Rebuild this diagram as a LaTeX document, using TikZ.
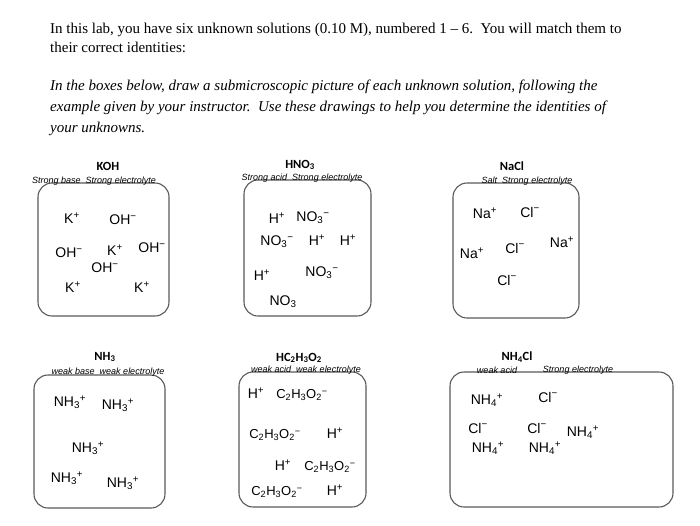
\documentclass[tikz,border=0pt]{standalone}
\usepackage{fontspec}
\setmainfont{Liberation Serif}
\newfontfamily\titlefont{Carlito}
\newfontfamily\handfont{Liberation Sans}

\newcommand{\ionp}{\textsuperscript{+}}
\newcommand{\ionm}{\textsuperscript{−}}

\tikzset{
  solbox/.style={draw=black!65, line width=1.1pt, rounded corners=14pt},
  line/.style={anchor=base west, inner sep=0pt, font=\fontsize{15}{18}\selectfont},
  itline/.style={line, font=\itshape\fontsize{15}{18}\selectfont},
  title/.style={font=\titlefont\bfseries\fontsize{12.5}{14}\selectfont, inner sep=0pt},
  note/.style={font=\handfont\itshape\fontsize{9}{10}\selectfont, inner sep=0pt},
  ion/.style={font=\handfont\fontsize{14}{16}\selectfont, inner sep=0pt},
  longion/.style={ion, font=\handfont\fontsize{13}{15}\selectfont},
}

\begin{document}
\begin{tikzpicture}[x=1pt,y=-1pt]
    \useasboundingbox (0,0) rectangle (700,525);

    % Instructions
    \node[line] (l1) at (50,33) {In this lab, you have six unknown solutions (0.10 M), numbered 1 -- 6.\ \ You will match them to};
    \node[line] (l2) at (50,52) {their correct identities:};
    \node[itline] (l3) at (50,90) {In the boxes below, draw a submicroscopic picture of each unknown solution, following the};
    \node[itline] (l4) at (50,111) {example given by your instructor.\ \ Use these drawings to help you determine the identities of};
    \node[itline] (l5) at (50,132) {your unknowns.};

    % Box 1 KOH
    \draw[solbox] (38,183) rectangle (169,316);
    \node[title] (t1) at (108,166) {KOH};
    \node[note] (n1) at (94,181) {Strong base\ \ Strong electrolyte};
    % Ions
    \node[ion] (k1) at (72,218) {K\ionp};
    \node[ion] (k2) at (123,220) {OH\ionm};
    \node[ion] (k3) at (69,253) {OH\ionm};
    \node[ion] (k4) at (115,250) {K\ionp};
    \node[ion] (k5) at (152,248) {OH\ionm};
    \node[ion] (k6) at (105,268) {OH\ionm};
    \node[ion] (k7) at (73,287) {K\ionp};
    \node[ion] (k8) at (142,287) {K\ionp};

    % Box 2 HNO3
    \draw[solbox] (244,180) rectangle (371,316);
    \node[title] (t2) at (300,165) {HNO\textsubscript{3}};
    \node[note] (n2) at (302,178) {Strong acid\ \ Strong electrolyte};
    % Ions
    \node[ion] (h1) at (277,218) {H\ionp};
    \node[ion] (h2) at (313,218) {NO\textsubscript{3}\ionm};
    \node[ion] (h3) at (277,242) {NO\textsubscript{3}\ionm};
    \node[ion] (h4) at (317,240) {H\ionp};
    \node[ion] (h5) at (348,240) {H\ionp};
    \node[ion] (h6) at (262,275) {H\ionp};
    \node[ion] (h7) at (322,273) {NO\textsubscript{3}\ionm};
    \node[ion] (h8) at (283,302) {NO\textsubscript{3}};

    % Box 3 NaCl
    \draw[solbox] (453,183) rectangle (579,318);
    \node[title] (t3) at (512,166) {NaCl};
    \node[note] (n3) at (527,181) {Salt\ \ Strong electrolyte};
    % Ions
    \node[ion] (s1) at (485,213) {Na\ionp};
    \node[ion] (s2) at (530,212) {Cl\ionm};
    \node[ion] (s3) at (472,253) {Na\ionp};
    \node[ion] (s4) at (515,248) {Cl\ionm};
    \node[ion] (s5) at (562,242) {Na\ionp};
    \node[ion] (s6) at (507,280) {Cl\ionm};

    % Box 4 NH3
    \draw[solbox] (34,375) rectangle (165,508);
    \node[title] (t4) at (105,357) {NH\textsubscript{3}};
    \node[note] (n4) at (108,372) {weak base\ \ weak electrolyte};
    % Ions
    \node[ion] (a1) at (70,402) {NH\textsubscript{3}\ionp};
    \node[ion] (a2) at (118,405) {NH\textsubscript{3}\ionp};
    \node[ion] (a3) at (88,448) {NH\textsubscript{3}\ionp};
    \node[ion] (a4) at (67,478) {NH\textsubscript{3}\ionp};
    \node[ion] (a5) at (123,483) {NH\textsubscript{3}\ionp};

    % Box 5 HC2H3O2
    \draw[solbox] (239,372) rectangle (366,507);
    \node[title] (t5) at (299,358) {HC\textsubscript{2}H\textsubscript{3}O\textsubscript{2}};
    \node[note] (n5) at (306,370) {weak acid\ \ weak electrolyte};
    % Ions
    \node[ion] (c1) at (256,393) {H\ionp};
    \node[longion] (c2) at (302,395) {C\textsubscript{2}H\textsubscript{3}O\textsubscript{2}\ionm};
    \node[longion] (c3) at (275,435) {C\textsubscript{2}H\textsubscript{3}O\textsubscript{2}\ionm};
    \node[ion] (c4) at (335,433) {H\ionp};
    \node[ion] (c5) at (283,465) {H\ionp};
    \node[longion] (c6) at (330,467) {C\textsubscript{2}H\textsubscript{3}O\textsubscript{2}\ionm};
    \node[longion] (c7) at (277,492) {C\textsubscript{2}H\textsubscript{3}O\textsubscript{2}\ionm};
    \node[ion] (c8) at (335,490) {H\ionp};

    % Box 6 NH4Cl
    \draw[solbox] (450,372) rectangle (673,507);
    \node[title] (t6) at (517,357) {NH\textsubscript{4}Cl};
    \node[note] (n6a) at (497,370) {weak acid};
    \node[note] (n6b) at (578,370) {Strong electrolyte};
    % Ions
    \node[ion] (m1) at (487,400) {NH\textsubscript{4}\ionp};
    \node[ion] (m2) at (548,397) {Cl\ionm};
    \node[ion] (m3) at (478,428) {Cl\ionm};
    \node[ion] (m4) at (537,428) {Cl\ionm};
    \node[ion] (m5) at (583,432) {NH\textsubscript{4}\ionp};
    \node[ion] (m6) at (488,448) {NH\textsubscript{4}\ionp};
    \node[ion] (m7) at (545,448) {NH\textsubscript{4}\ionp};

\end{tikzpicture}
\end{document}
